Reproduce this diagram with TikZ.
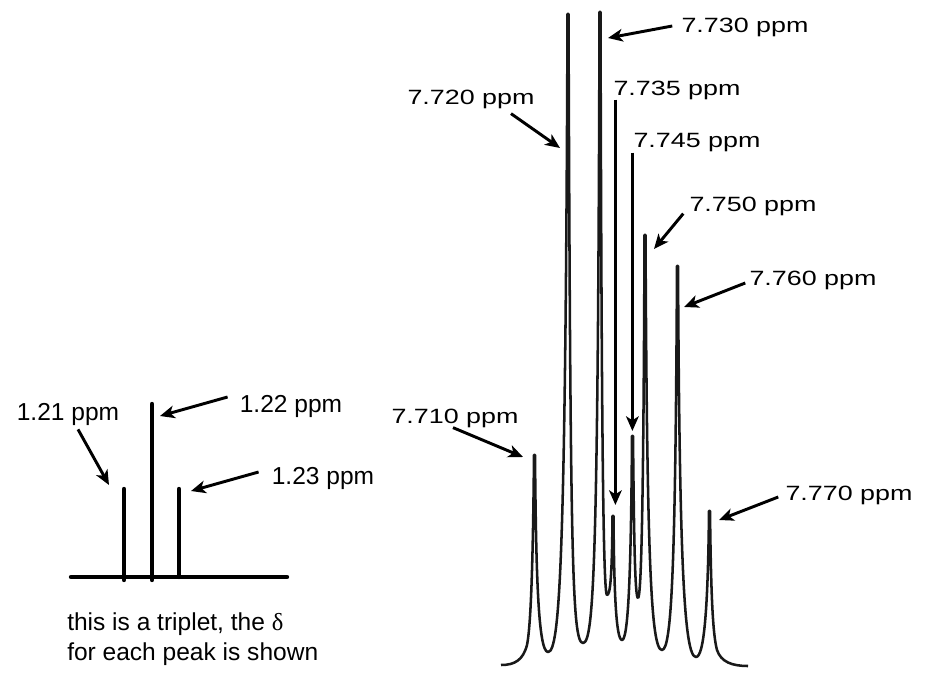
\documentclass[tikz,border=0pt]{standalone}
\usepackage{fontspec}
\setmainfont{Liberation Sans}
\newfontfamily\widefont[FakeStretch=1.3]{Liberation Sans}
\newfontfamily\deltafont{Liberation Serif}
\usetikzlibrary{arrows.meta}

\tikzset{
  tick/.style={line width=3.3pt,line cap=round},
  spectrum/.style={line width=1.9pt,line join=bevel,black!90},
  ptr/.style={line width=2.2pt,-{Stealth[length=11pt,width=9.5pt,inset=3pt]}},
  narrowlabel/.style={inner sep=0pt,font=\fontsize{18.4}{22.5}\selectfont},
  widelabel/.style={inner sep=0pt,font=\fontsize{15.5}{18}\widefont},
}

\begin{document}
\begin{tikzpicture}[x=0.75pt,y=-0.75pt]
  \useasboundingbox (0,0) rectangle (942,680);

  % triplet
  \coordinate (base1) at (71,577);
  \coordinate (base2) at (287,577);
  \coordinate (top1) at (124,489);
  \coordinate (top2) at (152,404);
  \coordinate (top3) at (179,489);
  \coordinate (foot1) at (124,580);
  \coordinate (foot2) at (152,580);
  \coordinate (foot3) at (179,577);
  \draw[tick] (base1) -- (base2);
  \draw[tick] (top1) -- (foot1);
  \draw[tick] (top2) -- (foot2);
  \draw[tick] (top3) -- (foot3);

  \node [narrowlabel] (l121) at (68,414) {1.21 ppm};
  \node [narrowlabel] (l122) at (291,406) {1.22 ppm};
  \node [narrowlabel] (l123) at (323,478) {1.23 ppm};
  \node [narrowlabel,align=left,anchor=north west] (note) at (67,612)
    {this is a triplet, the {\deltafont δ}\\for each peak is shown};

  \coordinate (t121) at (109,485);
  \coordinate (t122) at (160,416);
  \coordinate (t123) at (191,491);
  \draw[ptr] ([shift={(10,4)}]l121.south) -- (t121);
  \draw[ptr] ([shift={(-12,-9)}]l122.west) -- (t122);
  \draw[ptr] ([shift={(-13,-6)}]l123.west) -- (t123);

  % multiplet
  \draw[spectrum] (501,665) .. controls (515,665) and (523,660) .. (527,645)
    .. controls (531,625) and (533,560) .. (534,455) -- (535,455)
    .. controls (536,570) and (538,652) .. (548,652)
    .. controls (560,652) and (565.5,560) .. (567.5,14) -- (568.5,14)
    .. controls (570.5,560) and (572,643) .. (583,643)
    .. controls (594,643) and (598,560) .. (599.5,12) -- (600.5,12)
    .. controls (601.5,400) and (603,595) .. (607,595)
    .. controls (610,595) and (612,580) .. (612.5,516) -- (613.5,516)
    .. controls (614,590) and (616,640) .. (622,640)
    .. controls (628,640) and (631,580) .. (632,436) -- (633,436)
    .. controls (634,540) and (635,598) .. (638,598)
    .. controls (641,598) and (643.5,520) .. (644.5,235) -- (645.5,235)
    .. controls (647,560) and (651,650) .. (662,650)
    .. controls (672,650) and (675.5,560) .. (677,266) -- (678,266)
    .. controls (679.5,560) and (684,657) .. (696,657)
    .. controls (704,657) and (708,610) .. (709,511) -- (710,511)
    .. controls (711,600) and (713,635) .. (717,650)
    .. controls (721,662) and (732,666) .. (748,666);

  \node [widelabel] (l710) at (455,418) {7.710 ppm};
  \node [widelabel] (l720) at (471,99) {7.720 ppm};
  \node [widelabel] (l730) at (745,27) {7.730 ppm};
  \node [widelabel] (l735) at (677,90) {7.735 ppm};
  \node [widelabel] (l745) at (697,143) {7.745 ppm};
  \node [widelabel] (l750) at (753,206) {7.750 ppm};
  \node [widelabel] (l760) at (813,280) {7.760 ppm};
  \node [widelabel] (l770) at (849,495) {7.770 ppm};

  \coordinate (t710) at (523,457);
  \coordinate (t720) at (560,148);
  \coordinate (t730) at (608,38);
  \coordinate (t735) at (615.4,505);
  \coordinate (t745) at (632.4,431);
  \coordinate (t750) at (654,249);
  \coordinate (t760) at (684,307);
  \coordinate (t770) at (719,520);
  \draw[ptr] ([shift={(-2,0)}]l710.south) -- (t710);
  \draw[ptr] ([shift={(40,5)}]l720.south) -- (t720);
  \draw[ptr] ([shift={(-9,-1)}]l730.west) -- (t730);
  \draw[ptr] (t735 |- l735.south) -- (t735);
  \draw[ptr] (t745 |- l745.south) -- (t745);
  \draw[ptr] ([shift={(-6,-2)}]l750.south west) -- (t750);
  \draw[ptr] ([shift={(-4,3)}]l760.west) -- (t760);
  \draw[ptr] ([shift={(-7,2)}]l770.west) -- (t770);
\end{tikzpicture}
\end{document}
